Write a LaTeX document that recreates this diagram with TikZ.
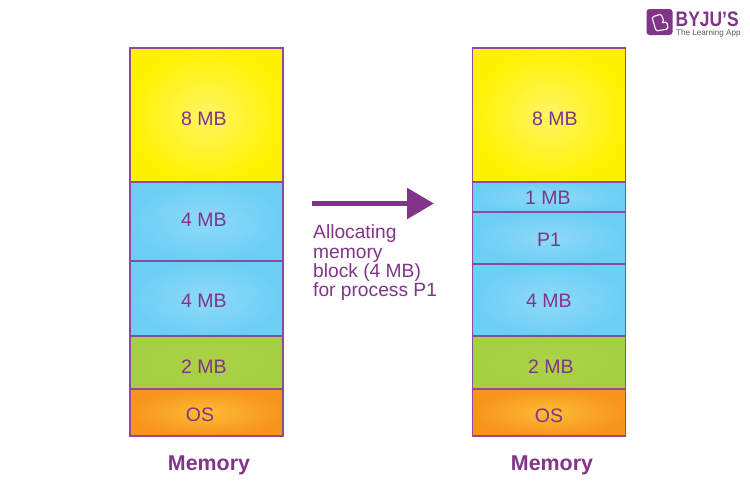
\documentclass[tikz,border=0pt]{standalone}
\usepackage{fontspec}
\setmainfont{Liberation Sans}
\usetikzlibrary{positioning}
\usetikzlibrary{arrows.meta}
\definecolor{byjuspurple}{HTML}{813588}
\definecolor{borderpurple}{HTML}{8F4A9C}
\tikzset{
  block/.style={draw=borderpurple, line width=1.1pt, minimum width=153pt, outer sep=0pt, inner sep=0pt},
  yellowblock/.style={block, inner color={rgb,255:red,255;green,245;blue,100}, outer color={rgb,255:red,255;green,242;blue,0}},
  blueblock/.style={block, inner color={rgb,255:red,142;green,217;blue,248}, outer color={rgb,255:red,108;green,207;blue,246}},
  greenblock/.style={block, inner color={rgb,255:red,172;green,210;blue,72}, outer color={rgb,255:red,165;green,207;blue,66}},
  orangeblock/.style={block, inner color={rgb,255:red,253;green,188;blue,52}, outer color={rgb,255:red,247;green,148;blue,30}},
  blocktext/.style={text=byjuspurple, font=\fontsize{19.5}{22}\selectfont},
  captiontext/.style={text=byjuspurple, font=\fontsize{21.4}{24}\selectfont\bfseries}
}
\begin{document}
\begin{tikzpicture}[x=1pt,y=-1pt]
\useasboundingbox (0,0) rectangle (750,496);
% left column
\node (l8) [yellowblock, minimum height=134pt] at (206.5,115) {};
\node (l4a) [blueblock, minimum height=79pt, below=0pt of l8] {};
\node (l4b) [blueblock, minimum height=75pt, below=0pt of l4a] {};
\node (l2) [greenblock, minimum height=53pt, below=0pt of l4b] {};
\node (los) [orangeblock, minimum height=47pt, below=0pt of l2] {};
% right column
\node (r8) [yellowblock, minimum height=134pt] at (549,115) {};
\node (r1) [blueblock, minimum height=30pt, below=0pt of r8] {};
\node (rp) [blueblock, minimum height=52pt, below=0pt of r1] {};
\node (r4) [blueblock, minimum height=72pt, below=0pt of rp] {};
\node (r2) [greenblock, minimum height=53pt, below=0pt of r4] {};
\node (ros) [orangeblock, minimum height=47pt, below=0pt of r2] {};
% labels
\node (tl8) [blocktext] at (204,119) {8 MB};
\node (tl4a) [blocktext] at (204,220) {4 MB};
\node (tl4b) [blocktext] at (204,301) {4 MB};
\node (tl2) [blocktext] at (204,367) {2 MB};
\node (tlos) [blocktext] at (200,415) {OS};
\node (tr8) [blocktext] at (555,119) {8 MB};
\node (tr1) [blocktext] at (548,198) {1 MB};
\node (trp) [blocktext] at (549,240) {P1};
\node (tr4) [blocktext] at (549,301) {4 MB};
\node (tr2) [blocktext] at (551,367) {2 MB};
\node (tros) [blocktext] at (549,416) {OS};
\node (ml) [captiontext] at (209,465) {Memory};
\node (mr) [captiontext] at (552,465) {Memory};
% arrow
\coordinate (from) at (312,203.5);
\coordinate (to) at (434,203.5);
\draw [-{Triangle[length=27pt,width=30pt]}, line width=5.5pt, draw=byjuspurple] (from) -- (to);
\node (alloc) [blocktext, font=\fontsize{19.2}{19.4}\selectfont, align=left, anchor=north west, inner sep=0pt] at (313,224.5) {Allocating\\memory\\block (4 MB)\\for process P1};
% logo
\node (logobox) [fill=byjuspurple, rounded corners=3pt, minimum width=26pt, minimum height=26pt, inner sep=0pt] at (659.5,22) {};
\draw [white, line width=1.1pt, line join=round, rounded corners=1.5pt] (652,17) -- (661,14) -- (664,21) -- (661,23) -- (667,22) -- (668,29) -- (656,31) -- cycle;
\node (logoname) [text=byjuspurple, font=\fontsize{21}{21}\selectfont\bfseries, xscale=0.83, anchor=west, inner sep=0pt, text height=15pt, text depth=0pt] at (675.5,18.5) {BYJU'S};
\node (logotag) [text=black!65, font=\fontsize{8.1}{10}\selectfont, anchor=west, inner sep=0pt, text height=6pt, text depth=2pt] at (676,33) {The Learning App};
\end{tikzpicture}
\end{document}
